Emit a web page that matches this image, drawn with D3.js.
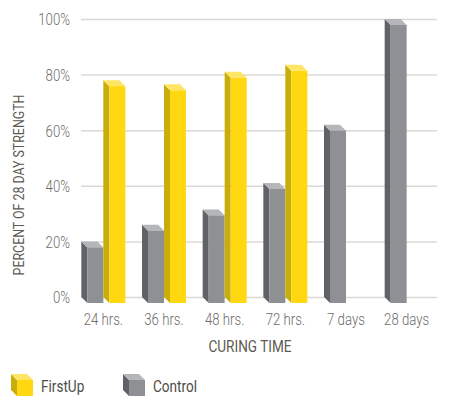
<!DOCTYPE html>
<meta charset="utf-8">
<style>
body { margin:0; background:#fff; }
svg text { font-family: Roboto, "Open Sans", sans-serif; }
.axis path { display:none; }
.grid line { stroke:#dcd8d4; stroke-width:1.5; }
</style>
<body>
<svg width="450" height="408" id="vis"></svg>
</body>
<script src="https://d3js.org/d3.v7.min.js"></script>
<script>
var categories = ["24 hrs.", "36 hrs.", "48 hrs.", "72 hrs.", "7 days", "28 days"];
var firstUp = [78, 76.5, 81, 83.5, null, null];
var control = [20, 26, 31.5, 41, 62, 100];
var yTicks = [0, 20, 40, 60, 80, 100];
var seriesNames = ["FirstUp", "Control"];

var yellow = {front:"#ffd812", side:"#c9ad0b", top:"#ffe565"};
var gray = {front:"#8e9094", side:"#5f6266", top:"#b4b6b9"};

var sx = 0.8;      // squeeze text a bit, the original font is condensed
var depth = 6, faceW = 16;

var svg = d3.select("svg");

var x = d3.scaleBand().domain(categories).range([73, 437]),
    y = d3.scaleLinear().domain([0, 100]).range([297, 19]);

// grid + y labels
var yaxis = svg.append("g")
    .attr("class", "axis grid")
    .attr("transform", "translate(81,0)")
    .call(d3.axisLeft(y).tickValues(yTicks).tickSize(-356).tickFormat(function(d){ return d + "%"; }));
yaxis.selectAll("text")
    .attr("x", -11 / sx)
    .attr("dy", "0.36em")
    .attr("transform", "scale(" + sx + ",1)")
    .style("font-size", "16.5px")
    .style("font-weight", 300)
    .style("fill", "#6e6c68");

// x labels
var xaxis = svg.append("g")
    .attr("class", "axis")
    .attr("transform", "translate(0,325)")
    .call(d3.axisBottom(x).tickSize(0));
xaxis.selectAll("text")
    .attr("y", 0).attr("dy", 0)
    .attr("transform", "scale(" + sx + ",1)")
    .style("font-size", "16.5px")
    .style("font-weight", 300)
    .style("fill", "#6e6c68");

function cube(g, bx, yTop, yBot, c) {
  // back plane sits on the grid, the front is shifted down-right
  g.append("polygon")
    .attr("points", [[bx, yTop], [bx + depth, yTop + depth], [bx + depth, yBot + depth], [bx, yBot]].join(" "))
    .attr("fill", c.side);
  g.append("polygon")
    .attr("points", [[bx, yTop], [bx + faceW, yTop], [bx + faceW + depth, yTop + depth], [bx + depth, yTop + depth]].join(" "))
    .attr("fill", c.top);
  g.append("rect")
    .attr("x", bx + depth).attr("y", yTop + depth)
    .attr("width", faceW).attr("height", yBot - yTop)
    .attr("fill", c.front);
}

var bars = svg.append("g");
categories.forEach(function(cat, i) {
  var c = x(cat) + x.bandwidth() / 2;
  cube(bars, c - 22, y(control[i]), y(0), gray);
  if (firstUp[i] != null) cube(bars, c, y(firstUp[i]), y(0), yellow);
});

// axis titles
svg.append("text")
    .attr("transform", "translate(250,352) scale(" + sx + ",1)")
    .attr("text-anchor", "middle")
    .style("font-size", "17px")
    .style("fill", "#5c5a52")
    .text("CURING TIME");

svg.append("text")
    .attr("transform", "translate(24,185) rotate(-90) scale(" + sx + ",1)")
    .attr("text-anchor", "middle")
    .style("font-size", "15.5px")
    .style("fill", "#5c5a52")
    .text("PERCENT OF 28 DAY STRENGTH");

// legend
var legend = svg.append("g");
[[11, yellow], [123, gray]].forEach(function(p, i) {
  cube(legend, p[0], 374, 390, p[1]);
  legend.append("text")
    .attr("transform", "translate(" + (p[0] + 30) + ",392) scale(" + sx + ",1)")
    .style("font-size", "17px")
    .style("fill", "#4e4c46")
    .text(seriesNames[i]);
});
</script>
